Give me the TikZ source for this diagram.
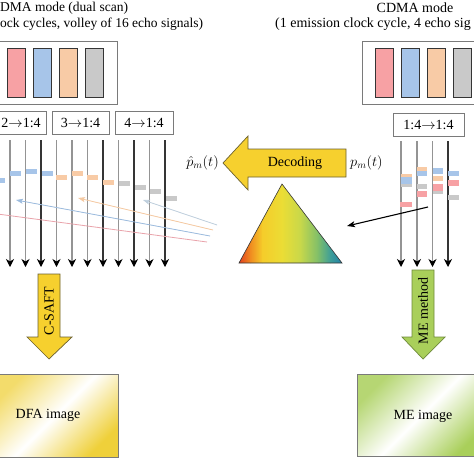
\documentclass[tikz,border=0pt]{standalone}
\usepackage{fontspec}
\setmainfont{Liberation Serif}
\usetikzlibrary{arrows.meta}
\definecolor{cred}{HTML}{F7A1A4}
\definecolor{cblue}{HTML}{A7C5E9}
\definecolor{corange}{HTML}{F8CBA6}
\definecolor{cgray}{HTML}{C9C9C9}
\definecolor{lgray}{HTML}{949494}
\definecolor{dgray}{HTML}{353535}
\definecolor{boxline}{HTML}{7A7A7A}
\definecolor{decyel}{HTML}{F6D02E}
\definecolor{decline}{HTML}{6B6030}
\definecolor{megreen}{HTML}{A9CF5A}
\definecolor{meline}{HTML}{6E8A3A}
\definecolor{dfayel}{HTML}{EFD03A}
\definecolor{ln1}{HTML}{BFCFDD}
\definecolor{ln2}{HTML}{F4C9A2}
\definecolor{ln3}{HTML}{9CBBDD}
\definecolor{ln4}{HTML}{E9A3AB}
\definecolor{t1}{HTML}{E03A1E}
\definecolor{t2}{HTML}{F08A20}
\definecolor{t3}{HTML}{F5CC2A}
\definecolor{t4}{HTML}{EBDD35}
\definecolor{t5}{HTML}{C8D84A}
\definecolor{t6}{HTML}{7FBE6A}
\definecolor{t7}{HTML}{3E9E98}
\definecolor{t8}{HTML}{1E7FA8}
\tikzset{
  txt/.style={font=\fontsize{14}{16}\selectfont, inner sep=0pt},
  ttl/.style={font=\fontsize{13.5}{16}\selectfont, inner sep=0pt},
  codebox/.style={draw=dgray, line width=0.6pt},
  groupbox/.style={draw=boxline, line width=0.9pt},
  labbox/.style={draw=boxline, line width=0.9pt, fill=white, minimum height=23pt, inner sep=0pt, font=\fontsize{14}{16}\selectfont},
  vline/.style={line width=1.1pt, -{Stealth[length=8pt,width=8pt,inset=2.5pt,color=black]}},
  echo/.style={line width=0.8pt, -{Stealth[length=7pt,width=5pt,inset=1.5pt]}},
}
\begin{document}
\begin{tikzpicture}[x=1pt,y=-1pt]
\useasboundingbox (0,0) rectangle (474,474);
% titles
\node[ttl, anchor=west] (tl1) at (0,8) {DMA mode (dual scan)};
\node[ttl, anchor=west] (tl2) at (0,24) {ock cycles, volley of 16 echo signals)};
\node[txt] (tr1) at (415,8) {CDMA mode};
\node[txt, anchor=west] (tr2) at (275,24) {(1 emission clock cycle, 4 echo sig};
% top boxes
\draw[groupbox] (-7,41) rectangle (117,104);
\foreach \x/\c in {7/cred,33/cblue,59/corange,85/cgray}
  \draw[codebox, fill=\c] (\x,48) rectangle ++(18,49);
\draw[groupbox] (362,41) rectangle (486,104);
\foreach \x/\c in {375/cred,401/cblue,427/corange,453/cgray}
  \draw[codebox, fill=\c] (\x,48) rectangle ++(18,49);
% label boxes
\draw[groupbox, fill=white] (-11,111) rectangle (46,134);
\node[txt] (b2) at (21,122.5) {2$\to$1:4};
\node[labbox, minimum width=57pt] (b3) at (80.5,122.5) {3$\to$1:4};
\node[labbox, minimum width=58pt] (b4) at (144,122.5) {4$\to$1:4};
\node[labbox, minimum width=71pt] (br) at (428.5,124.5) {1:4$\to$1:4};
% left vertical lines
\foreach \i in {0,...,10}{
  \pgfmathsetmacro{\xx}{10+15.5*\i}
  \coordinate (lt\i) at (\xx,140);
  \coordinate (lb\i) at (\xx,267);
}
\foreach \i in {0,1,3,4,5,7,9}
  \draw[vline, draw=lgray] (lt\i) -- (lb\i);
\foreach \i in {2,6,8,10}
  \draw[vline, draw=dgray] (lt\i) -- (lb\i);
% right vertical lines
\foreach \i/\xx in {1/401,2/417,3/432.5,4/448}{
  \coordinate (rt\i) at (\xx,141);
  \coordinate (rb\i) at (\xx,267);
}
\foreach \i in {1,2,3}
  \draw[vline, draw=lgray] (rt\i) -- (rb\i);
\draw[vline, draw=dgray] (rt4) -- (rb4);
% echo lines (left)
\coordinate (e1s) at (217,225); \coordinate (e1e) at (143,200);
\coordinate (e2s) at (213,230); \coordinate (e2e) at (78,198);
\coordinate (e3s) at (210,236); \coordinate (e3e) at (16,200);
\coordinate (e4s) at (207,242); \coordinate (e4e) at (-10,213);
\draw[echo, draw=ln1, fill=ln1] (e1s) -- (e1e);
\draw[echo, draw=ln2, fill=ln2] (e2s) -- (e2e);
\draw[echo, draw=ln3, fill=ln3] (e3s) -- (e3e);
\draw[line width=0.8pt, draw=ln4] (e4s) -- (e4e);
% left dashes
\foreach \x/\y in {-6/178,10/171,26/169,42/171}
  \fill[cblue] (\x,\y) rectangle ++(11,5);
\foreach \x/\y in {56/175,72/171,87/175,103/180}
  \fill[corange] (\x,\y) rectangle ++(11,5);
\foreach \x/\y in {119/181,135/185,150/189,166/196}
  \fill[cgray] (\x,\y) rectangle ++(11,5);
% right dashes
\fill[corange] (401,174) rectangle (412,179);
\fill[cgray] (401,181) rectangle (412,187);
\fill[cblue] (401,177) rectangle (412,184);
\fill[cred] (400,202) rectangle (412,207);
\fill[corange] (417,167) rectangle (427,172);
\fill[cblue] (417,171) rectangle (427,176);
\fill[cgray] (417,184) rectangle (427,189);
\fill[cred] (417,191) rectangle (427,197);
\fill[cblue] (433,168) rectangle (443,174);
\fill[corange] (433,176) rectangle (443,181);
\fill[cgray] (433,188) rectangle (443,194);
\fill[cred] (433,184) rectangle (443,191);
\fill[cblue] (448,171) rectangle (459,176);
\fill[cred] (448,180) rectangle (459,186);
\fill[cgray] (448,195) rectangle (459,200);
% black arrow
\coordinate (bas) at (428,207);
\coordinate (bae) at (347,226);
\draw[line width=1.1pt, -{Stealth[length=8pt,width=6pt,inset=2pt]}] (bas) -- (bae);
% triangle
\coordinate (TA) at (282,184);
\coordinate (TB) at (239,263);
\coordinate (TC) at (342,263);
\begin{scope}
  \clip (TA) -- (TB) -- (TC) -- cycle;
  \shade[left color=t1, right color=t2] (238,180) rectangle (250.5,264);
  \shade[left color=t2, right color=t3] (250,180) rectangle (262.5,264);
  \shade[left color=t3, right color=t4] (262,180) rectangle (282.5,264);
  \shade[left color=t4, right color=t5] (282,180) rectangle (300.5,264);
  \shade[left color=t5, right color=t6] (300,180) rectangle (318.5,264);
  \shade[left color=t6, right color=t7] (318,180) rectangle (330.5,264);
  \shade[left color=t7, right color=t8] (330,180) rectangle (343,264);
\end{scope}
\draw[line width=0.6pt, draw=dgray, line join=miter] (TA) -- (TB) -- (TC) -- cycle;
% decoding arrow
\draw[fill=decyel, draw=decline, line width=0.7pt] (223,163) -- (248,136) -- (248,149) -- (346,149) -- (346,177) -- (248,177) -- (248,190) -- cycle;
\node[txt] (dec) at (295,163) {Decoding};
\node[txt, anchor=east] (phat) at (219,163) {$\hat{p}_m(t)$};
\node[txt, anchor=west] (pm) at (350,163) {$p_m(t)$};
% C-SAFT arrow
\draw[fill=decyel, draw=decline, line width=0.7pt] (38,274) -- (60,274) -- (60,337) -- (72,337) -- (49,359) -- (27,337) -- (38,337) -- cycle;
\node[txt, rotate=90] (csaft) at (49,311) {C-SAFT};
% ME method arrow
\draw[fill=megreen, draw=meline, line width=0.7pt] (412,270) -- (434,270) -- (434,337) -- (445,337) -- (423,359) -- (402,337) -- (412,337) -- cycle;
\node[txt, rotate=90] (mem) at (423,311) {ME method};
% image boxes
\shade[top color=dfayel!75, bottom color=dfayel, middle color=white, shading angle=45] (-7,374) rectangle (118,457);
\draw[draw=boxline, line width=0.9pt] (-7,374) rectangle (118,457);
\node[txt] (dfa) at (48,415) {DFA image};
\shade[top color=megreen!85, bottom color=megreen, middle color=white, shading angle=45] (357,374) rectangle (486,456);
\draw[draw=boxline, line width=0.9pt] (357,374) rectangle (486,456);
\node[txt] (mei) at (423,416) {ME image};
\end{tikzpicture}
\end{document}
